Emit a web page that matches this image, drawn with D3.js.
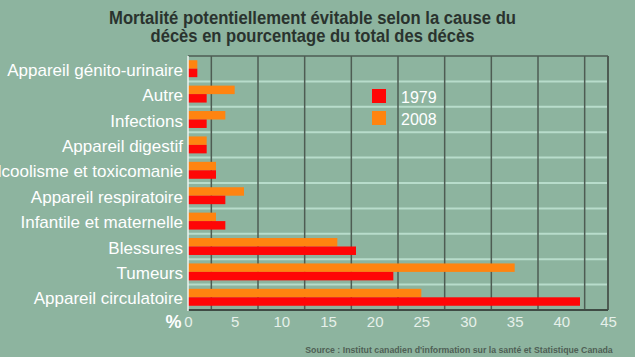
<!DOCTYPE html>
<html><head><meta charset="utf-8">
<script src="https://cdn.jsdelivr.net/npm/d3@7"></script>
<style>
html,body{margin:0;padding:0;background:#8db49f;}
svg{display:block;}
</style></head>
<body>
<svg id="c" width="635" height="357"></svg>
<script>
const categories = ["Appareil génito-urinaire","Autre","Infections","Appareil digestif","Alcoolisme et toxicomanie","Appareil respiratoire","Infantile et maternelle","Blessures","Tumeurs","Appareil circulatoire"];
const values1979 = [1,2,2,2,3,4,4,18,22,42];
const values2008 = [1,5,4,2,3,6,3,16,35,25];
const seriesNames = ["2008","1979"];
const tickValues = [0,5,10,15,20,25,30,35,40,45];
const gridValues = [2.5,7.5,12.5,17.5,22.5,27.5,32.5,37.5,42.5];
const titleLines = ["Mortalité potentiellement évitable selon la cause du","décès en pourcentage du total des décès"];
const sourceText = "Source : Institut canadien d'information sur la santé et Statistique Canada";

const colors = {"1979":"#ff0606","2008":"#ff8410"};
const svg = d3.select("#c");
const L=188, R=608, T=56, B=310;
const x = d3.scaleLinear().domain([0,45]).range([L,R]);
const y = d3.scaleBand().domain(categories).range([T,B]).paddingInner(0).paddingOuter(0);
const ys = d3.scaleBand().domain(seriesNames).range([0,y.bandwidth()]).paddingInner(0).paddingOuter(0.5);

svg.append("rect").attr("width",635).attr("height",357).attr("fill","#8db49f");

// fit a text horizontally to a target width with a scale transform (center x)
function fitText(sel, cx, targetW, anchor){
  sel.each(function(){
    const w = this.getComputedTextLength();
    const k = targetW / w;
    d3.select(this).attr("x",0).attr("transform", `translate(${cx},${this.getAttribute("y")}) scale(${k},1)`).attr("y",0);
  });
}

// title
const titles = svg.selectAll("text.title").data(titleLines).join("text")
  .attr("class","title")
  .attr("y",(d,i)=>23.5+i*18.5)
  .attr("text-anchor","middle")
  .attr("font-family","'Liberation Sans Narrow','Arial Narrow','Liberation Sans',Arial,sans-serif")
  .attr("font-weight","bold").attr("font-size",19)
  .attr("fill","#2a332e")
  .text(d=>d);
titles.each(function(d,i){ fitText(d3.select(this), 312.5, i===0?407:324); });

// horizontal light lines
svg.append("g").selectAll("line").data(categories.slice(1)).join("line")
  .attr("x1",L).attr("x2",R)
  .attr("y1",d=>y(d)).attr("y2",d=>y(d))
  .attr("stroke","#b8dccb").attr("stroke-width",2);

// vertical dark gridlines
svg.append("g").selectAll("line").data(gridValues).join("line")
  .attr("x1",d=>x(d)).attr("x2",d=>x(d))
  .attr("y1",T).attr("y2",B)
  .attr("stroke","#4e5c53").attr("stroke-width",1.5);

// borders
svg.append("line").attr("x1",L).attr("x2",R).attr("y1",T).attr("y2",T).attr("stroke","#4e5c53").attr("stroke-width",1.5);
svg.append("line").attr("x1",R).attr("x2",R).attr("y1",T).attr("y2",B).attr("stroke","#4e5c53").attr("stroke-width",2);
svg.append("line").attr("x1",L).attr("x2",R).attr("y1",B).attr("y2",B).attr("stroke","#3f4b44").attr("stroke-width",2);

// bars
const rows = categories.map((c,i)=>({cat:c, "1979":values1979[i], "2008":values2008[i]}));
const g = svg.append("g");
g.selectAll("g").data(rows).join("g")
  .attr("transform",d=>`translate(0,${y(d.cat)})`)
  .selectAll("rect").data(d=>seriesNames.map(s=>({s, v:d[s]}))).join("rect")
  .attr("x",x(0)).attr("y",d=>ys(d.s))
  .attr("width",d=>x(d.v)-x(0)).attr("height",ys.bandwidth())
  .attr("fill",d=>colors[d.s]);

// left axis line
svg.append("line").attr("x1",L).attr("x2",L).attr("y1",T).attr("y2",B+1).attr("stroke","#eef5f0").attr("stroke-width",1.5);

// category labels
svg.append("g").selectAll("text").data(categories).join("text")
  .attr("x",183).attr("y",d=>y(d)+y.bandwidth()/2+7)
  .attr("text-anchor","end")
  .attr("font-family","'Liberation Sans',Arial,sans-serif")
  .attr("font-size",17).attr("fill","#ffffff")
  .text(d=>d);

// x axis
const xAxis = d3.axisBottom(x).tickValues(tickValues).tickSize(0).tickPadding(0);
const ax = svg.append("g").attr("transform",`translate(0,${B})`).call(xAxis);
ax.select(".domain").remove();
ax.selectAll("text").attr("dy",null).attr("y",16.5)
  .attr("font-family","'Liberation Sans',Arial,sans-serif")
  .attr("font-size",15).attr("fill","#e6f0ea");

svg.append("text").attr("x",173.5).attr("y",327.5).attr("text-anchor","middle")
  .attr("font-family","'Liberation Sans',Arial,sans-serif")
  .attr("font-weight","bold").attr("font-size",18).attr("fill","#ffffff").text("%");

// legend
const leg = svg.append("g");
["1979","2008"].forEach((s,i)=>{
  leg.append("rect").attr("x",372).attr("y",89+i*22).attr("width",14).attr("height",14).attr("fill",colors[s]);
  leg.append("text").attr("x",401).attr("y",103+i*21.5)
    .attr("font-family","'Liberation Sans',Arial,sans-serif")
    .attr("font-size",16).attr("fill","#ffffff").text(s);
});

// source
const src = svg.append("text").attr("y",353)
  .attr("text-anchor","middle")
  .attr("font-family","'Liberation Sans Narrow','Liberation Sans',Arial,sans-serif")
  .attr("font-weight","bold").attr("font-size",9.5).attr("fill","#4f5f55")
  .text(sourceText);
fitText(src, 459, 308);
</script>
</body></html>
